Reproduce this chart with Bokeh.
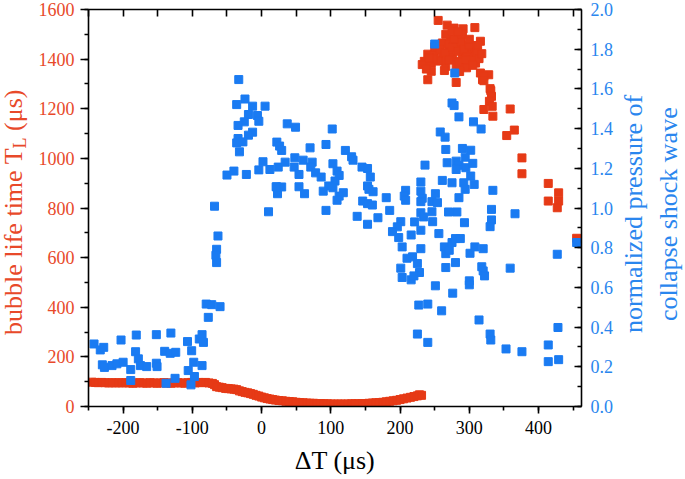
from bokeh.plotting import figure
from bokeh.layouts import row
from bokeh.models import (Range1d, LinearAxis, SingleIntervalTicker, FixedTicker,
                          PrintfTickFormatter, Div)
from bokeh.embed import file_html
from bokeh.resources import INLINE

RED = "#e63a16"
RED_TXT = "#e8492a"
BLUE = "#1a7bf2"
BLUE_TXT = "#2a86ee"
FONT = "Liberation Serif"

# bubble life time T_L (us) vs delta T (us)
red_x = [-245, -240, -236, -231, -226, -221, -216, -211, -206, -201, -196, -191, -186, -181,
         -176, -171, -166, -161, -156, -151, -146, -141, -136, -131, -126, -121, -116, -111,
         -106, -101, -96, -91, -86, -81, -76, -71, -68, -65, -61, -57, -52, -48, -44, -40,
         -36, -32, -28, -24, -20, -16, -12, -8, -4, 0, 4, 8, 12, 16, 20, 25, 30, 35, 40, 45,
         50, 55, 60, 65, 70, 75, 80, 85, 90, 95, 100, 105, 110, 115, 120, 125, 130, 135, 140,
         145, 150, 155, 160, 165, 170, 175, 180, 185, 190, 195, 200, 205, 210, 215, 220, 225,
         228, 231,
         255, 268, 278, 291, 308, 285, 273, 261, 316, 281, 295, 304, 254, 271, 240, 249, 261,
         276, 290, 307, 300, 309, 235, 245, 232, 266, 281, 292, 245, 264, 316, 328, 240, 281,
         319, 330, 321, 321, 331, 332, 329, 333, 321, 334, 359, 354, 365, 376, 376, 414, 429,
         414, 429, 427, 455,
         250, 258, 265, 270, 276, 283, 288, 292, 297, 300, 305, 311, 262, 255, 270, 285, 295,
         314, 318, 248, 242, 278, 290, 300, 266, 275, 283, 312, 238, 296, 305, 286]
red_y = [98, 97, 96, 97, 96, 95, 96, 95, 96, 95, 96, 95, 94, 95,
         96, 95, 94, 96, 95, 94, 95, 96, 95, 94, 95, 96, 95, 94,
         96, 97, 95, 97, 96, 97, 95, 93, 88, 80, 78, 76, 73, 72, 71, 70,
         68, 63, 60, 57, 55, 52, 49, 45, 42, 38, 35, 32, 30, 28, 26, 24, 23, 21, 20, 19,
         17, 16, 15, 14, 13, 13, 12, 12, 11, 11, 10, 10, 10, 10, 10, 10, 11, 11, 11,
         12, 12, 13, 14, 15, 16, 17, 19, 21, 23, 25, 28, 31, 34, 37, 40, 43,
         47, 45,
         1556, 1537, 1525, 1522, 1527, 1498, 1478, 1465, 1472, 1458, 1444, 1444, 1438, 1434,
         1420, 1418, 1411, 1404, 1418, 1418, 1391, 1384, 1391, 1384, 1378, 1371, 1378, 1371,
         1351, 1354, 1344, 1337, 1317, 1306, 1317, 1281, 1331, 1313, 1273, 1250, 1230, 1210,
         1197, 1170, 1199, 1092, 1114, 1002, 938, 899, 861, 828, 828, 801, 678,
         1450, 1440, 1425, 1460, 1447, 1432, 1470, 1440, 1410, 1457, 1398, 1430, 1395, 1392,
         1396, 1390, 1398, 1402, 1422, 1402, 1405, 1482, 1500, 1480, 1500, 1515, 1510, 1455,
         1360, 1365, 1375, 1350]

# normalized pressure of collapse shock wave vs delta T (us)
blue_x = [-242, -233, -228, -230, -227, -216, -209, -200, -203, -181, -182, -178, -189, -175,
          -166, -189, -152, -152, -151, -131, -140, -132, -124, -138, -125, -107, -101, -98,
          -106, -97, -102, -86, -90, -86, -84, -77, -80, -72, -60,
          22, 23, 29, -68, 10, -63, -65, -66, -65,
          -33, -24, -36, -13, 5, -19, -6, -4, -25, -34, -13, -19, -34, -36, -27, -32, 37, 49,
          102, 22, 26, 29, 70, 93, 121, 130, 132, 2, -40, -50, -22, -4, 12, 24, 34, 48, 60, 47,
          54, 73, 71, 78, 86, 103, 109, 112, 106, 97, 103, 89, 118, 112, 109, 21, 54, 62, 145,
          153, 157, 153, 155, 161, 146, 153, 160, 138, 153, 168, 93,
          180, 185, 201, 196, 189, 198, 203, 210, 218, 225, 201, 208, 206, 208, 230, 230, 232,
          230, 221, 216, 230, 234, 230, 230, 236, 251, 246, 254, 246, 247, 256, 261, 258, 265,
          266, 268, 264, 266, 266,
          250, 279, 275, 278, 285, 306, 317, 290, 302, 294, 281, 285, 281, 295, 305, 302, 275,
          292, 307, 294, 334, 285,
          270, 282, 293, 332, 332, 330, 366, 228, 203, 216, 220, 271, 275, 280, 287, 280, 301,
          308, 320, 318, 320, 322, 300, 300, 251, 276, 227, 240, 260, 314, 225, 240, 330, 331,
          353, 376, 359, 427, 428, 414, 414, 429, 455]
blue_p = [0.315, 0.285, 0.298, 0.210, 0.197, 0.206, 0.215, 0.223, 0.335, 0.360, 0.276, 0.240,
          0.186, 0.206, 0.201, 0.131, 0.362, 0.218, 0.201, 0.370, 0.278, 0.268, 0.273, 0.117,
          0.142, 0.327, 0.281, 0.223, 0.181, 0.151, 0.109, 0.206, 0.340, 0.362, 0.323, 0.449,
          0.516, 0.513, 0.503,
          1.106, 1.072, 1.106, 1.009, 0.981, 0.859, 0.792, 0.762, 0.725,
          1.647, 1.549, 1.521, 1.513, 1.513, 1.471, 1.466, 1.437, 1.434, 1.416, 1.382, 1.367,
          1.350, 1.328, 1.333, 1.283, 1.424, 1.407, 1.398, 1.332, 1.312, 1.290, 1.303, 1.320,
          1.290, 1.258, 1.241, 1.233, 1.186, 1.166, 1.169, 1.192, 1.194, 1.206, 1.231, 1.253,
          1.241, 1.206, 1.169, 1.231, 1.206, 1.177, 1.156, 1.223, 1.186, 1.164, 1.136, 1.111,
          1.102, 1.085, 1.077, 1.060, 1.039, 1.107, 1.107, 1.072, 1.206, 1.199, 1.156, 1.111,
          1.094, 1.082, 1.035, 1.022, 1.015, 0.958, 0.918, 0.951, 0.988,
          1.052, 0.988, 0.931, 0.905, 0.881, 0.851, 0.804, 0.747, 0.754, 0.720, 0.697, 1.089,
          1.060, 1.039, 1.131, 1.085, 1.049, 1.032, 0.930, 0.864, 0.976, 0.955, 0.888, 0.795,
          1.216, 1.072, 1.032, 1.027, 0.981, 0.931, 0.871, 1.139, 1.383, 1.357, 1.295, 1.228,
          0.804, 0.770, 0.700,
          1.826, 1.680, 1.529, 1.516, 1.459, 1.434, 1.398, 1.300, 1.291, 1.256, 1.236, 1.215,
          1.194, 1.203, 1.225, 1.161, 1.127, 1.127, 1.119, 1.094, 1.089, 1.052,
          0.980, 0.980, 0.926, 0.993, 0.940, 0.906, 0.971, 0.675, 0.650, 0.638, 0.658, 0.787,
          0.826, 0.846, 0.846, 0.725, 0.772, 0.804, 0.795, 0.704, 0.683, 0.658, 0.633, 0.613,
          0.608, 0.571, 0.511, 0.516, 0.482, 0.436, 0.365, 0.323, 0.365, 0.335, 0.290, 0.276,
          0.697, 0.767, 0.398, 0.310, 0.226, 0.236, 0.826]

p = figure(width=588, height=479, x_range=Range1d(-250, 462), y_range=Range1d(0, 1600),
           output_backend="svg", toolbar_location=None, margin=0,
           min_border_left=60, min_border_right=33, min_border_top=9, min_border_bottom=73)
p.outline_line_color = None
p.xgrid.visible = False
p.ygrid.visible = False
p.extra_y_ranges = {"pres": Range1d(0, 2.0)}


def style_axis(ax, color, tick_in, tick_out, minor_in, minor_out):
    ax.axis_line_color = "black"
    ax.axis_line_width = 1.6
    ax.major_tick_line_color = "black"
    ax.minor_tick_line_color = "black"
    ax.major_tick_line_width = 1.6
    ax.minor_tick_line_width = 1.6
    ax.major_tick_in = tick_in
    ax.major_tick_out = tick_out
    ax.minor_tick_in = minor_in
    ax.minor_tick_out = minor_out
    ax.major_label_text_font = FONT
    ax.major_label_text_font_size = "18px"
    ax.major_label_text_color = color


xb = p.below[0]
xb.ticker = SingleIntervalTicker(interval=100, num_minor_ticks=2)
xb.formatter = PrintfTickFormatter(format="%d")
style_axis(xb, "black", 0, 7, 0, 4)
xb.major_label_standoff = 7
xb.axis_label = "ΔT (μs)"
xb.axis_label_text_font = FONT
xb.axis_label_text_font_style = "normal"
xb.axis_label_text_font_size = "26px"
xb.axis_label_text_color = "black"
xb.axis_label_standoff = 9

yl = p.left[0]
yl.ticker = SingleIntervalTicker(interval=200, num_minor_ticks=2)
yl.formatter = PrintfTickFormatter(format="%d")
style_axis(yl, RED_TXT, 0, 8, 0, 4)
yl.major_label_standoff = 6

yr = LinearAxis(y_range_name="pres", ticker=SingleIntervalTicker(interval=0.2, num_minor_ticks=2),
                formatter=PrintfTickFormatter(format="%.1f"))
style_axis(yr, BLUE_TXT, 7, 0, 4, 0)
yr.major_label_standoff = 9
p.add_layout(yr, "right")

# top frame edge: ticks only, no labels
xt = LinearAxis(ticker=FixedTicker(ticks=[], minor_ticks=list(range(-250, 463, 50))))
style_axis(xt, "black", 0, 0, 7, 0)
p.add_layout(xt, "above")

p.scatter(red_x, red_y, marker="square", size=8, color=RED)
p.scatter(blue_x, blue_p, marker="square", size=8, color=BLUE, y_range_name="pres")

vert = ("writing-mode: vertical-rl; transform: rotate(180deg); text-align: center; "
        "white-space: nowrap; font-family: 'Liberation Serif'; font-size: 26px;")
left_title = Div(width=28, height=479, margin=0, text=(
    f'<div style="{vert} color: {RED_TXT}; width: 28px; height: 425px; line-height: 28px;">'
    'bubble life time T<sub style="font-size: 18px;">L</sub> (μs)</div>'))
right_title = Div(width=69, height=479, margin=0, text=(
    f'<div style="{vert} color: {BLUE_TXT}; width: 69px; height: 428px; line-height: 35px;">'
    'normalized pressure of<br>collapse shock wave</div>'))

layout = row(left_title, p, right_title, spacing=0)
open("out.html", "w").write(file_html(layout, INLINE))
